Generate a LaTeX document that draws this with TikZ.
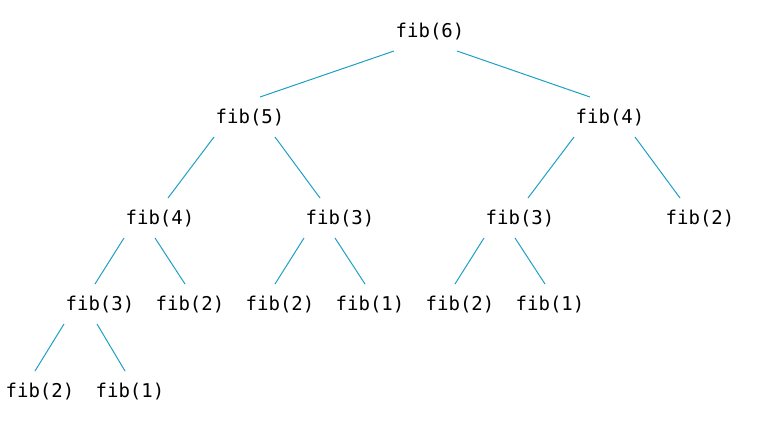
\documentclass[tikz,border=0pt]{standalone}
\usepackage{fontspec}
\setmonofont{DejaVu Sans Mono}
\usetikzlibrary{positioning}
\definecolor{edgeblue}{RGB}{30,160,195}
\tikzset{
    fibnode/.style={inner sep=0pt, font=\ttfamily\fontsize{19}{22}\selectfont},
    call/.style={draw=edgeblue, line width=1pt}
}
% parent, child, x offset at parent, x offset at child
\newcommand{\callline}[4]{\draw[call] ([shift={(#3pt,-19pt)}]#1.center) -- ([shift={(#4pt,21pt)}]#2.center);}
\begin{document}
\begin{tikzpicture}[x=1pt,y=-1pt]
    \useasboundingbox (0,0) rectangle (768,421);
    \node[fibnode] (f6)    at (430,32)  {fib(6)};
    \node[fibnode] (f5)    at (250,118) {fib(5)};
    \node[fibnode] (f4)    at (610,118) {fib(4)};
    \node[fibnode] (f5l)   at (160,219) {fib(4)};
    \node[fibnode] (f5r)   at (340,219) {fib(3)};
    \node[fibnode] (f4l)   at (520,219) {fib(3)};
    \node[fibnode] (f4r)   at (700,219) {fib(2)};
    \node[fibnode] (f5ll)  at (100,305) {fib(3)};
    \node[fibnode] (f5lr)  at (190,305) {fib(2)};
    \node[fibnode] (f5rl)  at (280,305) {fib(2)};
    \node[fibnode] (f5rr)  at (370,305) {fib(1)};
    \node[fibnode] (f4ll)  at (460,305) {fib(2)};
    \node[fibnode] (f4lr)  at (550,305) {fib(1)};
    \node[fibnode] (f5lll) at (40,392)  {fib(2)};
    \node[fibnode] (f5llr) at (130,392) {fib(1)};

    % wide fan-out
    \callline{f6}{f5}{-36}{10}  \callline{f6}{f4}{27}{-20}
    \callline{f5}{f5l}{-36}{8}  \callline{f5}{f5r}{25}{-20}
    \callline{f4}{f4l}{-36}{8}  \callline{f4}{f4r}{25}{-20}
    % narrow fan-out
    \callline{f5l}{f5ll}{-36}{-5}   \callline{f5l}{f5lr}{-5}{-5}
    \callline{f5r}{f5rl}{-36}{-5}   \callline{f5r}{f5rr}{-5}{-5}
    \callline{f4l}{f4ll}{-36}{-5}   \callline{f4l}{f4lr}{-5}{-5}
    \callline{f5ll}{f5lll}{-36}{-5} \callline{f5ll}{f5llr}{-3}{-5}
\end{tikzpicture}
\end{document}
